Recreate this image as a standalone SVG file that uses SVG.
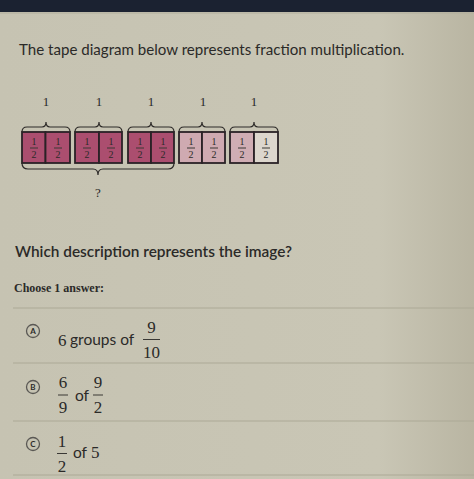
<svg xmlns="http://www.w3.org/2000/svg" width="474" height="479" viewBox="0 0 474 479">
<defs>
<linearGradient id="bg" x1="0" y1="0" x2="1" y2="0">
<stop offset="0" stop-color="#c6c3b2"/>
<stop offset="0.8" stop-color="#c9c6b5"/>
<stop offset="1" stop-color="#b9b5a2"/>
</linearGradient>
</defs>
<style>
.sans{font-family:Lato,"Open Sans",sans-serif;fill:#2b2a28}
.serif{font-family:"Liberation Serif","DejaVu Serif",serif;fill:#2b2a28}
.frac{font-size:10px;text-anchor:middle}
.box{stroke:#2a2226;stroke-width:1.8}
.brace{fill:none;stroke:#2d2a28;stroke-width:1.2}
.sep{stroke:#aca996;stroke-width:1}
.circ{fill:none;stroke:#5a5854;stroke-width:1.3}
.math{font-size:17px;text-anchor:middle}
.bar{stroke:#3a3835;stroke-width:1}
</style>
<rect width="474" height="479" fill="url(#bg)"/>
<rect width="474" height="12" fill="#1b2231"/>
<line x1="0" y1="13" x2="474" y2="13" stroke="#b0ad9c"/>
<text class="sans" x="19" y="55" font-size="15.1">The tape diagram below represents fraction multiplication.</text>

<g id="labels" class="serif" font-size="13" text-anchor="middle">
<text x="46" y="106">1</text>
<text x="99" y="106">1</text>
<text x="151" y="106">1</text>
<text x="203" y="106">1</text>
<text x="254" y="106">1</text>
<text x="98" y="197">?</text>
</g>

<g id="tape1">
<rect class="box" x="22" y="132" width="23.5" height="31" fill="#ab4e6f"/>
<rect class="box" x="45.5" y="132" width="24.5" height="31" fill="#ab4e6f"/>
</g>
<g id="tape2">
<rect class="box" x="75" y="132" width="24" height="31" fill="#ab4e6f"/>
<rect class="box" x="99" y="132" width="23" height="31" fill="#ab4e6f"/>
</g>
<g id="tape3">
<rect class="box" x="128" y="132" width="23" height="31" fill="#ab4e6f"/>
<rect class="box" x="151" y="132" width="23" height="31" fill="#ab4e6f"/>
</g>
<g id="tape4">
<rect class="box" x="179" y="132" width="23" height="31" fill="#cfaab1"/>
<rect class="box" x="202" y="132" width="23" height="31" fill="#cfaab1"/>
</g>
<g id="tape5">
<rect class="box" x="230" y="132" width="24" height="31" fill="#d0adb4"/>
<rect class="box" x="254" y="132" width="24" height="31" fill="#dcd6cd"/>
</g>

<g id="halves" class="serif frac">
<g transform="translate(34,0)"><text y="145">1</text><line class="bar" x1="-4" y1="148" x2="4" y2="148"/><text y="157.5">2</text></g>
<g transform="translate(58,0)"><text y="145">1</text><line class="bar" x1="-4" y1="148" x2="4" y2="148"/><text y="157.5">2</text></g>
<g transform="translate(87,0)"><text y="145">1</text><line class="bar" x1="-4" y1="148" x2="4" y2="148"/><text y="157.5">2</text></g>
<g transform="translate(111,0)"><text y="145">1</text><line class="bar" x1="-4" y1="148" x2="4" y2="148"/><text y="157.5">2</text></g>
<g transform="translate(140,0)"><text y="145">1</text><line class="bar" x1="-4" y1="148" x2="4" y2="148"/><text y="157.5">2</text></g>
<g transform="translate(163,0)"><text y="145">1</text><line class="bar" x1="-4" y1="148" x2="4" y2="148"/><text y="157.5">2</text></g>
<g transform="translate(191,0)"><text y="145">1</text><line class="bar" x1="-4" y1="148" x2="4" y2="148"/><text y="157.5">2</text></g>
<g transform="translate(214,0)"><text y="145">1</text><line class="bar" x1="-4" y1="148" x2="4" y2="148"/><text y="157.5">2</text></g>
<g transform="translate(242,0)"><text y="145">1</text><line class="bar" x1="-4" y1="148" x2="4" y2="148"/><text y="157.5">2</text></g>
<g transform="translate(266,0)"><text y="145">1</text><line class="bar" x1="-4" y1="148" x2="4" y2="148"/><text y="157.5">2</text></g>
</g>

<g id="braces">
<path class="brace" d="M22,132 Q22,127 27,127 L42,127 Q46,127 46,122 Q46,127 50,127 L65,127 Q70,127 70,132"/>
<path class="brace" d="M75,132 Q75,127 80,127 L95,127 Q99,127 99,122 Q99,127 103,127 L117,127 Q122,127 122,132"/>
<path class="brace" d="M128,132 Q128,127 133,127 L147,127 Q151,127 151,122 Q151,127 155,127 L169,127 Q174,127 174,132"/>
<path class="brace" d="M179,132 Q179,127 184,127 L198,127 Q202,127 202,122 Q202,127 206,127 L220,127 Q225,127 225,132"/>
<path class="brace" d="M230,132 Q230,127 235,127 L250,127 Q254,127 254,122 Q254,127 258,127 L273,127 Q278,127 278,132"/>
<path class="brace" d="M22,163 Q22,169 28,169 L93,169 Q98,169 98,175 Q98,169 103,169 L168,169 Q174,169 174,163"/>
</g>

<text class="sans" x="15" y="257" font-size="15.4" style="font-weight:600">Which description represents the image?</text>
<text class="serif" x="14" y="292" font-size="12" font-weight="bold">Choose 1 answer:</text>

<g id="separators">
<line class="sep" x1="13" y1="308" x2="474" y2="308"/>
<line class="sep" x1="13" y1="363" x2="474" y2="363"/>
<line class="sep" x1="13" y1="421" x2="474" y2="421"/>
<line class="sep" x1="13" y1="475" x2="474" y2="475"/>
</g>

<g id="optionA">
<circle class="circ" cx="33" cy="331" r="6.5"/>
<text class="sans" x="33" y="334" font-size="8" text-anchor="middle" font-weight="bold">A</text>
<text class="serif" x="58" y="346" font-size="17">6</text>
<text class="sans" x="70" y="345" font-size="15.5">groups of</text>
<text class="serif math" x="151.5" y="333">9</text>
<line class="bar" x1="143" y1="339.5" x2="160" y2="339.5"/>
<text class="serif math" x="151.5" y="358">10</text>
</g>

<g id="optionB">
<circle class="circ" cx="33" cy="387" r="6.5"/>
<text class="sans" x="33" y="390" font-size="8" text-anchor="middle" font-weight="bold">B</text>
<text class="serif math" x="63" y="388">6</text>
<line class="bar" x1="58" y1="395" x2="68" y2="395"/>
<text class="serif math" x="63" y="413">9</text>
<text class="sans" x="75" y="401" font-size="15.5">of</text>
<text class="serif math" x="98" y="388">9</text>
<line class="bar" x1="93" y1="395" x2="103" y2="395"/>
<text class="serif math" x="98" y="413">2</text>
</g>

<g id="optionC">
<circle class="circ" cx="33" cy="444" r="6.5"/>
<text class="sans" x="33" y="447" font-size="8" text-anchor="middle" font-weight="bold">C</text>
<text class="serif math" x="62" y="447">1</text>
<line class="bar" x1="57" y1="453.5" x2="67" y2="453.5"/>
<text class="serif math" x="62" y="472">2</text>
<text class="sans" x="73" y="458" font-size="15.5">of</text>
<text class="serif" x="91" y="458" font-size="17">5</text>
</g>
</svg>
